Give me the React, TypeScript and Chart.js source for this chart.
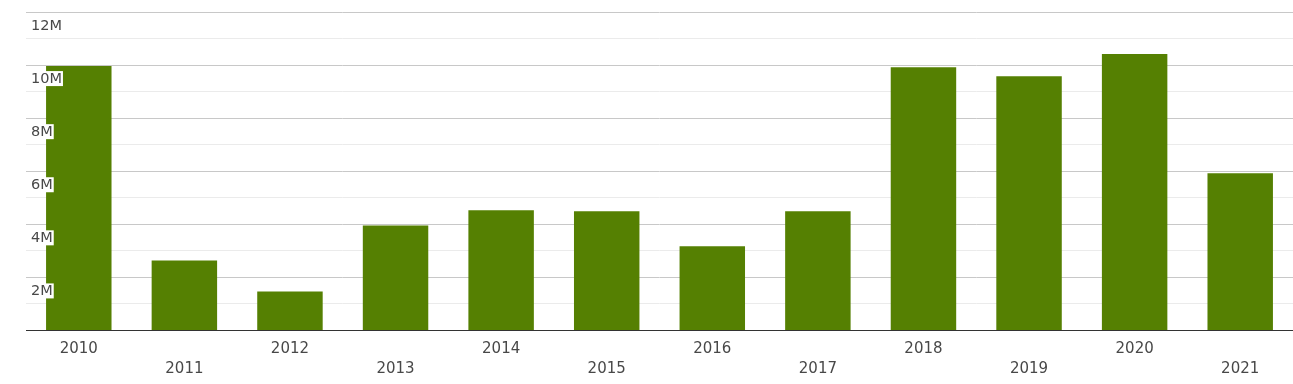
import React, { useEffect, useRef } from "react";
import { Chart, registerables } from "chart.js";

Chart.register(...registerables);

const categories = ["2010", "2011", "2012", "2013", "2014", "2015", "2016", "2017", "2018", "2019", "2020", "2021"];
const values = [9970000, 2640000, 1470000, 3960000, 4530000, 4490000, 3170000, 4490000, 9920000, 9580000, 10420000, 5920000];
const yLabelValues = [2000000, 4000000, 6000000, 8000000, 10000000, 12000000];

const FONT = "'DejaVu Sans', Verdana, sans-serif";
const TEXT = "#484848";

const yLabelPlugin = {
  id: "yLabels",
  afterDatasetsDraw(chart: any) {
    const ctx = chart.ctx;
    const y = chart.scales.y;
    const x0 = chart.chartArea.left + 5;
    ctx.save();
    ctx.font = `14.5px ${FONT}`;
    ctx.textBaseline = "alphabetic";
    ctx.textAlign = "left";
    yLabelValues.forEach((v) => {
      const py = y.getPixelForValue(v);
      const label = `${v / 1000000}M`;
      const w = ctx.measureText(label).width;
      ctx.fillStyle = "#ffffff";
      ctx.fillRect(x0 - 1, py + 6, w + 2, 15);
      ctx.fillStyle = TEXT;
      ctx.fillText(label, x0, py + 18);
    });
    ctx.restore();
  },
};

export default function App() {
  const ref = useRef<HTMLCanvasElement | null>(null);
  useEffect(() => {
    if (!ref.current) return;
    const chart = new Chart(ref.current, {
      type: "bar",
      data: {
        labels: categories,
        datasets: [
          {
            data: values,
            backgroundColor: "#558002",
            borderWidth: 0,
            barPercentage: 0.62,
            categoryPercentage: 1,
          },
        ],
      },
      options: {
        animation: false,
        responsive: true,
        maintainAspectRatio: false,
        layout: { padding: { top: 12, bottom: -3, left: 26, right: 0 } },
        plugins: { legend: { display: false }, tooltip: { enabled: false } },
        scales: {
          x: {
            grid: { display: false, drawTicks: false },
            border: { display: true, color: "#333333", width: 1 },
            ticks: {
              color: TEXT,
              font: { family: FONT, size: 15, lineHeight: 1.35 },
              padding: 8,
              maxRotation: 0,
              autoSkip: false,
              callback: (_v: any, i: number) => (i % 2 === 0 ? [categories[i]] : ["", categories[i]]),
            },
          },
          y: {
            min: 0,
            max: 12000000,
            grid: {
              drawTicks: false,
              color: (c: any) => (c.tick && c.tick.value % 2000000 === 0 ? "#c8c8c8" : "#ebebeb"),
              lineWidth: 1,
            },
            border: { display: false },
            ticks: { display: false, stepSize: 1000000 },
          },
        },
      },
      plugins: [yLabelPlugin],
    });
    return () => chart.destroy();
  }, []);
  return (
    <div style={{ position: "fixed", left: 0, top: 0, width: 1293, height: 384 }}>
      <canvas ref={ref} />
    </div>
  );
}
